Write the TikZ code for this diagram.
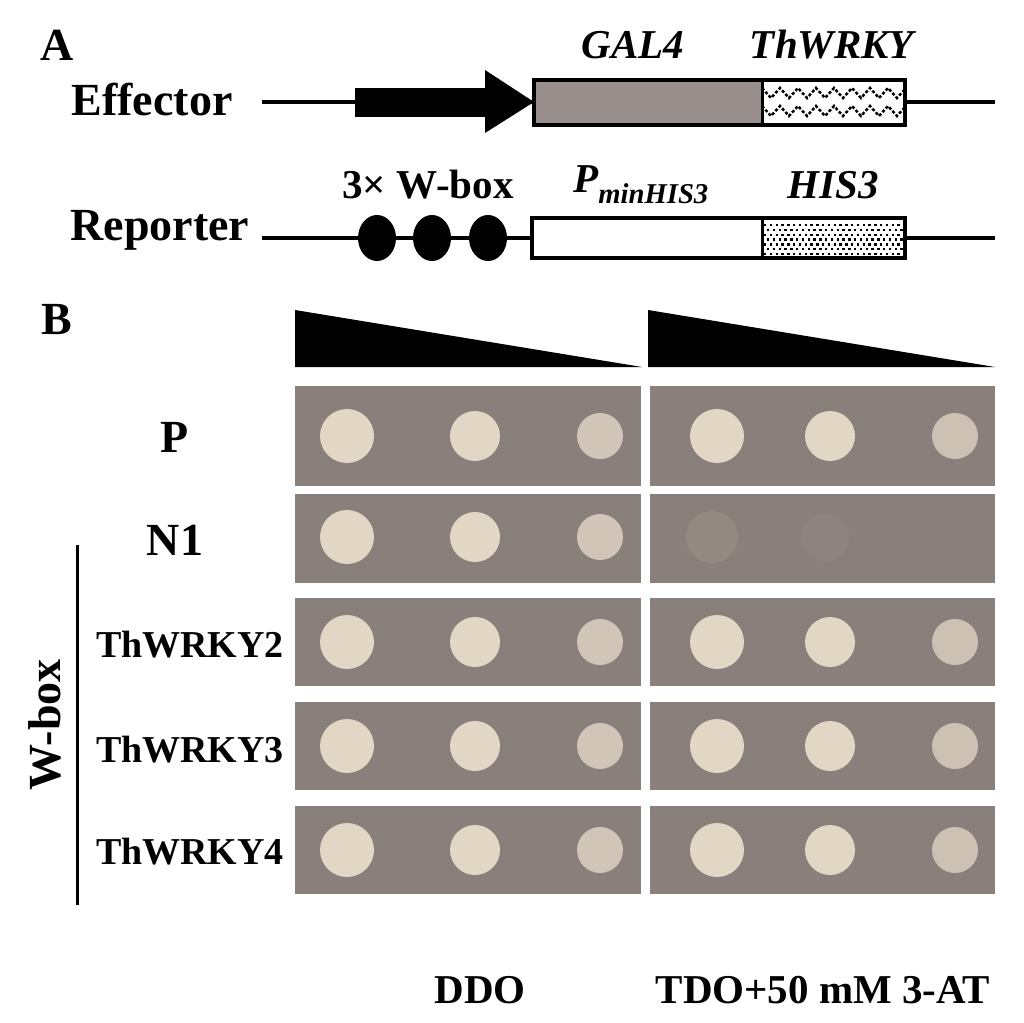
\documentclass[tikz,border=0pt]{standalone}
\usepackage{fontspec}
\setmainfont{Liberation Serif}
\begin{document}
\begin{tikzpicture}[x=1pt,y=-1pt,
  lab/.style={font=\fontsize{46}{48}\selectfont\bfseries},
  glab/.style={font=\fontsize{41}{43}\selectfont\bfseries\itshape},
  rlab/.style={font=\fontsize{41}{43}\selectfont\bfseries},
  slab/.style={font=\fontsize{38}{40}\selectfont\bfseries},
  plate/.style={fill=plategray,draw=none},
  spot/.style={fill=spotc,draw=none}]
\definecolor{plategray}{RGB}{137,128,124}
\definecolor{spotc}{RGB}{226,214,196}
\definecolor{gal}{RGB}{152,142,140}
\useasboundingbox (0,0) rectangle (1024,1022);
% panel A
\node[lab] (A) at (57,45) {A};
\node[lab] (eff) at (152,100) {Effector};
\draw[line width=4pt] (262,102) -- (995,102);
\fill (355,88) rectangle (487,117);
\fill (485,70) -- (534,102) -- (485,133) -- cycle;
\fill[gal] (534,80) rectangle (762,125);
\fill[white] (762,80) rectangle (905,125);
\begin{scope}
\clip (762,84) rectangle (903,121);
\foreach \yy in {88,106} {
 \draw[line width=2.5pt,dash pattern=on 3pt off 2pt] (762,\yy) \foreach \k in {0,...,7} { -- ++(9,10) -- ++(9,-10)};
}
\end{scope}
\draw[line width=4pt] (534,80) rectangle (905,125);
\draw[line width=3pt] (762,80) -- (762,125);
\node[glab] (gal4) at (633,45) {GAL4};
\node[glab] (thw) at (832,45) {ThWRKY};
\node[lab] (rep) at (160,230) {Reporter};
\draw[line width=4pt] (262,238) -- (995,238);
\foreach \cx in {377,432,488} \fill (\cx,238) ellipse (19 and 23);
\fill[white] (532,218) rectangle (905,258);
\begin{scope}
\clip (762,222) rectangle (903,255);
\foreach \i in {0,...,24} \foreach \j in {0,...,6} {
  \pgfmathsetmacro{\px}{764+\i*5.8+mod(\j,2)*2.9}
  \pgfmathsetmacro{\py}{224+\j*4.8}
  \fill (\px,\py) rectangle ++(2.4,2.4);
}
\end{scope}
\draw[line width=4pt] (532,218) rectangle (905,258);
\draw[line width=3pt] (762,218) -- (762,258);
\node[rlab] (wbx) at (428,185) {3× W-box};
\node[glab] (pmin) at (641,185) {P\textsubscript{minHIS3}};
\node[glab] (his) at (833,185) {HIS3};
% panel B
\node[lab] (B) at (57,320) {B};
\fill (295,310) -- (295,367) -- (642,367) -- cycle;
\fill (648,310) -- (648,367) -- (995,367) -- cycle;
\foreach \ya/\yb in {386/486,494/583,598/686,702/790,806/894} {
  \fill[plategray] (295,\ya) rectangle (641,\yb);
  \fill[plategray] (650,\ya) rectangle (995,\yb);
}
% spots
\foreach \yc in {436,537,642,746,850} {
  \fill[spotc] (347,\yc) circle (27);
  \fill[spotc] (475,\yc) circle (25);
  \fill[spotc!80!plategray] (600,\yc) circle (23);
}
\foreach \yc in {436,642,746,850} {
  \fill[spotc] (717,\yc) circle (27);
  \fill[spotc] (830,\yc) circle (25);
  \fill[spotc!75!plategray] (955,\yc) circle (23);
}
\fill[plategray!90!spotc] (712,537) circle (26);
\fill[plategray!96!spotc] (825,537) circle (24);
\node[lab] (p) at (175,437) {P};
\node[lab] (n1) at (175,540) {N1};
\node[slab] (t2) at (190,645) {ThWRKY2};
\node[slab] (t3) at (190,750) {ThWRKY3};
\node[slab] (t4) at (190,852) {ThWRKY4};
\coordinate (lt) at (77,545);
\coordinate (lb) at (77,905);
\draw[line width=3pt] (lt) -- (lb);
\node[lab,rotate=90] (wb) at (45,725) {W-box};
\node[rlab] (ddo) at (480,990) {DDO};
\node[rlab] (tdo) at (823,990) {TDO+50 mM 3-AT};
\end{tikzpicture}
\end{document}
